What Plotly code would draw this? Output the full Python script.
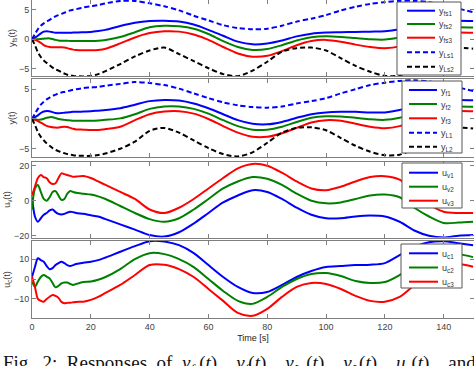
import plotly.graph_objects as go

# ---------------- data ----------------
T = [0, 1, 2, 3, 4, 5, 6, 7, 8, 9, 10, 11, 12, 13, 14, 15, 17.5, 20, 22.5, 25,
     30, 35, 40, 45, 50, 55, 60, 65, 70, 75, 80, 85, 90, 95, 100, 105, 110,
     115, 120, 125, 130, 135, 140, 145, 150]

# subplot 1
y_fs1 = [0, 0.3, 0.6, 1.0, 1.3, 1.35, 1.3, 1.2, 1.1, 1.1, 1.1, 1.1, 1.1, 1.1, 1.15, 1.15, 1.2, 1.25, 1.4, 1.6,
         2.25, 2.8, 3.1, 3.15, 3.0, 2.5, 1.6, 0.6, -0.4, -0.85, -0.7, -0.2, 0.5, 0.95, 1.15, 1.2, 1.25,
         1.3, 1.35, 1.7, 2.3, 2.8, 3.1, 3.15, 3.1]
y_fs2 = [0, 0, 0, 0.05, 0.1, 0.15, 0.15, 0.05, -0.1, -0.2, -0.25, -0.25, -0.25, -0.28, -0.3, -0.3, -0.3, -0.3, -0.25, -0.1,
         0.4, 1.2, 2.05, 2.3, 2.2, 1.8, 0.9, -0.3, -1.3, -1.8, -1.65, -1.0, -0.2, 0.35, 0.5, 0.4, 0.2,
         0.0, -0.05, 0.3, 1.0, 1.6, 1.95, 2.05, 2.0]
y_fs3 = [0, -0.1, -0.3, -0.6, -1.0, -1.2, -1.3, -1.35, -1.35, -1.35, -1.35, -1.4, -1.5, -1.65, -1.75, -1.8, -1.85, -1.85, -1.8, -1.6,
         -0.7, 0.3, 1.05, 1.35, 1.3, 0.8, -0.1, -1.3, -2.4, -2.95, -2.8, -2.0, -1.0, -0.3, -0.1, -0.4, -0.9,
         -1.3, -1.5, -1.2, -0.3, 0.5, 1.0, 1.15, 1.1]
y_Ls1 = [0, 0.9, 1.7, 2.3, 2.7, 3.0, 3.3, 3.6, 3.9, 4.1, 4.3, 4.5, 4.7, 4.9, 5.0, 5.1, 5.4, 5.6, 5.8, 6.1,
         6.5, 6.5, 6.1, 5.6, 4.9, 4.0, 3.2, 2.4, 1.9, 1.7, 1.8, 2.3, 3.0, 3.5, 4.1, 4.9, 5.5,
         6.0, 6.3, 6.5, 6.5, 6.3, 5.8, 5.2, 4.6]
y_Ls2 = [0, -1.0, -2.2, -3.0, -3.6, -4.0, -4.4, -4.8, -5.1, -5.3, -5.6, -5.8, -6.0, -6.1, -6.2, -6.25, -6.3, -6.2, -5.9, -5.4,
         -4.2, -2.9, -1.9, -1.4, -2.5, -3.7, -4.9, -5.9, -6.25, -5.3, -3.8, -2.1, -1.5, -1.4, -1.9, -3.2, -4.5,
         -5.5, -6.2, -6.1, -5.0, -3.5, -2.2, -1.5, -1.6]

# subplot 2
y_f1 = [0, 0.3, 0.6, 1.0, 1.25, 1.35, 1.3, 1.15, 1.0, 0.95, 1.0, 1.05, 1.1, 1.15, 1.2, 1.2, 1.25, 1.3, 1.4, 1.5,
        1.8, 2.4, 3.0, 3.2, 3.1, 2.6, 1.8, 0.8, -0.2, -0.8, -0.9, -0.5, 0.2, 0.8, 1.1, 1.2, 1.2,
        1.1, 1.1, 1.5, 2.2, 2.8, 3.1, 3.2, 3.15]
y_f2 = [0, -0.05, -0.15, -0.1, 0.05, 0.2, 0.3, 0.3, 0.15, 0.0, -0.1, -0.15, -0.2, -0.25, -0.3, -0.3, -0.3, -0.3, -0.25, -0.15,
        0.1, 0.8, 1.7, 2.1, 2.1, 1.7, 0.9, -0.2, -1.2, -1.8, -1.8, -1.3, -0.5, 0.2, 0.45, 0.4, 0.2,
        -0.05, -0.15, 0.2, 0.9, 1.6, 2.0, 2.1, 2.05]
y_f3 = [0, -0.15, -0.35, -0.6, -0.9, -1.15, -1.3, -1.4, -1.45, -1.45, -1.35, -1.3, -1.35, -1.5, -1.65, -1.75, -1.8, -1.85, -1.85, -1.7,
        -1.3, -0.2, 0.8, 1.25, 1.3, 0.9, 0.0, -1.2, -2.3, -3.0, -3.0, -2.4, -1.5, -0.6, -0.2, -0.3, -0.8,
        -1.3, -1.55, -1.2, -0.3, 0.6, 1.1, 1.35, 1.3]
y_L1 = [0, 0.9, 1.7, 2.4, 2.9, 3.3, 3.6, 3.9, 4.1, 4.3, 4.45, 4.55, 4.65, 4.8, 4.9, 5.0, 5.2, 5.3, 5.4, 5.6,
        5.9, 6.2, 6.05, 5.7, 5.1, 4.3, 3.5, 2.8, 2.3, 2.0, 1.9, 2.1, 2.6, 3.0, 3.5, 4.3, 5.0,
        5.7, 6.1, 6.4, 6.5, 6.3, 5.9, 5.3, 4.7]
y_L2 = [0, -1.0, -2.2, -3.0, -3.6, -4.1, -4.5, -4.9, -5.2, -5.4, -5.6, -5.75, -5.9, -6.0, -6.1, -6.15, -6.2, -6.2, -6.05, -5.8,
        -5.0, -3.8, -2.0, -1.5, -2.3, -3.6, -4.9, -5.9, -6.3, -5.6, -4.0, -2.3, -1.5, -1.4, -1.9, -3.2, -4.5,
        -5.5, -6.1, -6.0, -5.0, -3.5, -2.2, -1.5, -1.6]

# subplot 3
u_v1 = [2, -9, -12, -10, -8, -7, -5.5, -5, -6.5, -7.5, -7.8, -7.5, -6.8, -6.3, -6.5, -7, -7.5, -8.3, -9, -10.5,
        -13.5, -16.5, -19.6, -20.5, -18, -13, -7, -1, 3, 6, 5, 1, -4, -8, -10, -10, -9,
        -8.5, -9, -12, -17, -20, -21, -20, -19.6]
u_v2 = [-5, 7, 9, 5, 1, 0, 2, 5, 5.5, 3, 0.5, 1, 4, 5.5, 5, 4.5, 4, 3.5, 2.5, 1,
        -3, -7, -10.5, -12, -10, -5, 1, 7, 11, 13.5, 12.5, 9, 4, 0, -1.5, -1, 1,
        3, 3.5, 2, -4, -9, -12.7, -12.5, -12]
u_v3 = [3, 8, 13, 14.7, 13.5, 12.8, 10.5, 9.5, 10, 13, 15.6, 15.2, 14.7, 14.2, 13.7, 13.8, 14.1, 13, 11, 9,
        5, 1, -5, -7, -4, 1, 7, 13, 18.5, 21, 20, 16, 11, 7, 6, 8, 11,
        13.5, 14, 12, 5, -2, -6.3, -7, -7]

# subplot 4
u_c1 = [1, 6, 10.4, 9.5, 8.7, 6.5, 4.9, 5.5, 7, 8, 8.7, 8, 7, 6.5, 7, 7.5, 8.2, 8.7, 9.5, 10.8,
        13.7, 16.5, 19, 18.8, 17, 13, 7, 1, -4, -7, -6.5, -3, 1, 4, 6, 6.5, 7,
        7.2, 8, 12, 16, 18.5, 19, 18, 17]
u_c2 = [-1.3, -3.9, -1.3, 1.0, 2.0, 1.2, 0.3, -2, -4.2, -3.5, -2.2, -1.8, -1.8, -2.5, -3, -2.5, -1.5, -1.3, -0.4, 1,
        5, 10, 13, 12.5, 10, 6, 0, -6, -11, -12.5, -9, -4, 0, 2.5, 3, 1.5, -1,
        -2, -1.5, 2, 7, 11, 12.8, 12.5, 11]
u_c3 = [1.2, -4, -10, -11, -11.4, -10, -8.9, -8, -8.5, -9.5, -11.5, -12.2, -12, -11.9, -11.7, -11.5, -11.4, -10.5, -9, -7,
        -3, 2, 7, 7.2, 5, 1, -5, -11, -17, -18.5, -15, -9, -4, -2, -2.5, -5, -8.5,
        -11, -11.4, -9, -3, 3, 6.5, 7.5, 6.2]

TIME_TICKS = [0, 20, 40, 60, 80, 100, 120, 140]

BLUE, GREEN, RED, BLACK = "#0000FF", "#008000", "#FF0000", "#000000"

panels = [
    dict(series=[("y<sub>fs1</sub>", y_fs1, BLUE, "solid"), ("y<sub>fs2</sub>", y_fs2, GREEN, "solid"),
                 ("y<sub>fs3</sub>", y_fs3, RED, "solid"), ("y<sub>Ls1</sub>", y_Ls1, BLUE, "dash"),
                 ("y<sub>Ls2</sub>", y_Ls2, BLACK, "dash")],
         ytitle="y<sub>fs</sub>(t)", yrange=[-6.22, 6.66], yticks=[-5, 0, 5],
         px=(0, 76), legend=dict(box=(397, 2, 461, 75), line=(407, 435), rows=[10.7, 24, 37.7, 52.3, 66.7])),
    dict(series=[("y<sub>f1</sub>", y_f1, BLUE, "solid"), ("y<sub>f2</sub>", y_f2, GREEN, "solid"),
                 ("y<sub>f3</sub>", y_f3, RED, "solid"), ("y<sub>L1</sub>", y_L1, BLUE, "dash"),
                 ("y<sub>L2</sub>", y_L2, BLACK, "dash")],
         ytitle="y(t)", yrange=[-6.39, 6.72], yticks=[-5, 0, 5],
         px=(79, 157), legend=dict(box=(402, 81, 462, 153), line=(409, 437), rows=[90, 104, 118.3, 132.7, 146.7])),
    dict(series=[("u<sub>v1</sub>", u_v1, BLUE, "solid"), ("u<sub>v2</sub>", u_v2, GREEN, "solid"),
                 ("u<sub>v3</sub>", u_v3, RED, "solid")],
         ytitle="u<sub>v</sub>(t)", yrange=[-21.0, 22.4], yticks=[-20, 0, 20],
         px=(161.5, 237.5), legend=dict(box=(402, 163, 462, 208), line=(409, 438), rows=[172.7, 186.7, 200.7])),
    dict(series=[("u<sub>c1</sub>", u_c1, BLUE, "solid"), ("u<sub>c2</sub>", u_c2, GREEN, "solid"),
                 ("u<sub>c3</sub>", u_c3, RED, "solid")],
         ytitle="u<sub>c</sub>(t)", yrange=[-19.6, 19.1], yticks=[-10, 0, 10],
         px=(241, 318), legend=dict(box=(401, 244, 462, 288), line=(409, 438), rows=[253.3, 267.5, 281.7])),
]

W, H = 474, 366
ML, MR, MT, MB = 32, 0, 0, 48
PW, PH = W - ML - MR, H - MT - MB


def pxx(x):
    return (x - ML) / PW


def pxy(y):
    return (H - MB - y) / PH


fig = go.Figure()
layout = dict(width=W, height=H, margin=dict(l=ML, r=MR, t=MT, b=MB, autoexpand=False),
              paper_bgcolor="white", plot_bgcolor="white", showlegend=False,
              font=dict(family="Liberation Sans, Arial, sans-serif", size=9, color="#333"))
shapes, annotations = [], []
AX = "#7f7f7f"

for i, p in enumerate(panels):
    n = i + 1
    xa = "x" if n == 1 else f"x{n}"
    ya = "y" if n == 1 else f"y{n}"
    for name, vals, col, dash in p["series"]:
        fig.add_trace(go.Scatter(x=T, y=vals, mode="lines", name=name, xaxis=xa, yaxis=ya,
                                 line=dict(color=col, width=2, dash="5px,3px" if dash == "dash" else "solid",
                                           shape="spline", smoothing=0.8)))
    top, bot = p["px"]
    xdict = dict(
        domain=[0, 1], range=[0, 150.3], anchor=ya, tickvals=TIME_TICKS, automargin=False,
        showticklabels=(n == 4), ticks="inside", ticklen=4, tickcolor=AX,
        showline=True, linecolor=AX, linewidth=1, mirror="ticks", zeroline=False, showgrid=False,
        tickfont=dict(size=9, color="#444"))
    if n == 4:
        xdict["title"] = dict(text="Time [s]", standoff=3, font=dict(size=9, color="#222"))
    layout[f"xaxis{'' if n == 1 else n}"] = xdict
    layout[f"yaxis{'' if n == 1 else n}"] = dict(
        domain=[pxy(bot), pxy(top)], range=p["yrange"], anchor=xa, tickvals=p["yticks"], automargin=False,
        ticks="inside", ticklen=4, tickcolor=AX, showline=True, linecolor=AX, linewidth=1,
        mirror="ticks", zeroline=False, showgrid=False, tickfont=dict(size=9, color="#444"),
        title=dict(text=p["ytitle"], standoff=1, font=dict(size=9, color="#333")))
    lg = p["legend"]
    x0, y0, x1, y1 = lg["box"]
    shapes.append(dict(type="rect", xref="paper", yref="paper", x0=pxx(x0), x1=pxx(x1),
                       y0=pxy(y1), y1=pxy(y0), line=dict(color="#555", width=1), fillcolor="white"))
    for (name, vals, col, dash), ry in zip(p["series"], lg["rows"]):
        shapes.append(dict(type="line", xref="paper", yref="paper", x0=pxx(lg["line"][0]), x1=pxx(lg["line"][1]),
                           y0=pxy(ry), y1=pxy(ry),
                           line=dict(color=col, width=2, dash="5px,3px" if dash == "dash" else "solid")))
        annotations.append(dict(xref="paper", yref="paper", x=pxx(lg["line"][1] + 2), y=pxy(ry + 1),
                                xanchor="left", yanchor="middle", showarrow=False, text=name,
                                font=dict(size=9, color="#333")))

SP = "&nbsp;"
caption = ("Fig." + SP + " 2:" + SP + " Responses" + SP + " of" + SP + " "
           + ("," + SP + SP + " ").join([
               "<i>y<sub>fs</sub></i>(<i>t</i>)", "<i>y<sub>f</sub></i>(<i>t</i>)",
               "<i>y<sub>Ls</sub></i>(<i>t</i>)", "<i>y<sub>L</sub></i>(<i>t</i>)",
               "<i>u<sub>v</sub></i>(<i>t</i>)"])
           + "," + SP + SP + " and")
annotations.append(dict(xref="paper", yref="paper", x=pxx(1), y=pxy(350), xanchor="left", yanchor="top",
                        showarrow=False, text=caption,
                        font=dict(family="Liberation Serif, Times New Roman, serif", size=19, color="#111")))

layout["shapes"] = shapes
layout["annotations"] = annotations
fig.update_layout(**layout)
fig.write_html("out.html", config={"displayModeBar": False},
               post_script="document.body.style.margin='0px';document.body.style.overflow='hidden';")
